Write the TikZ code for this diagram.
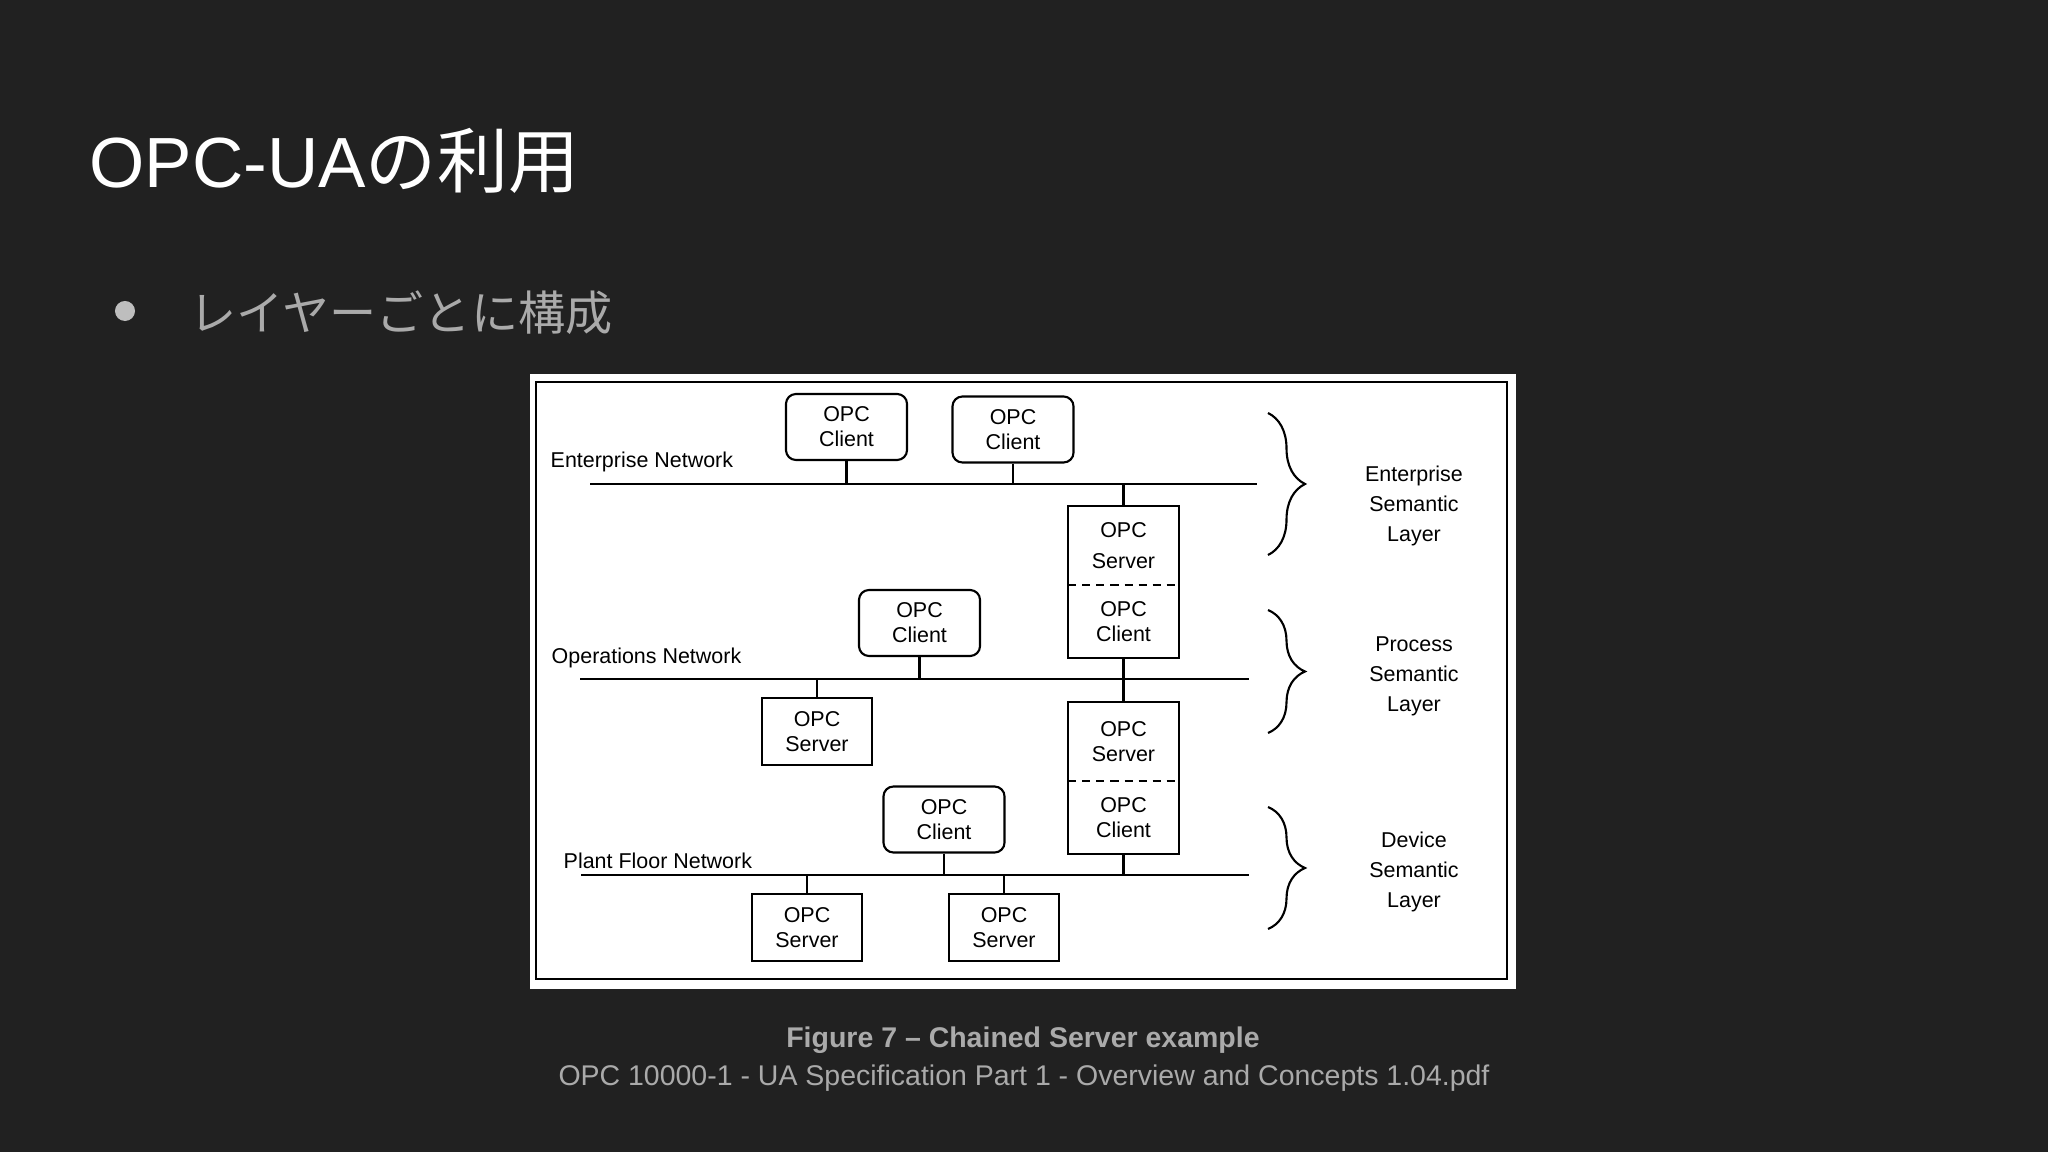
\documentclass[tikz,border=0pt]{standalone}
\usepackage{fontspec}
\setmainfont{Liberation Sans}
\newfontfamily\cjk{Noto Sans CJK JP}
\usetikzlibrary{positioning, fit, calc, decorations.pathreplacing}
\definecolor{slidebg}{RGB}{33, 33, 33}
\definecolor{softgray}{RGB}{170, 170, 170}
\definecolor{bulletgray}{RGB}{190, 190, 190}
\newcommand{\diagfont}{\fontsize{6.1}{7.1}\selectfont}
\newcommand{\layerfont}{\fontsize{6.1}{8.5}\selectfont}

\begin{document}
\begin{tikzpicture}[x=0.01cm, y=-0.01cm,
        client/.style={draw, line width=0.6pt, rounded corners=0.1cm, minimum width=1.21cm, minimum height=0.66cm, inner sep=0pt, align=center, font=\diagfont},
        server/.style={draw, line width=0.6pt, minimum width=1.10cm, minimum height=0.67cm, inner sep=0pt, align=center, font=\diagfont},
        half/.style={minimum width=1.09cm, inner sep=0pt, align=center, font=\diagfont},
        net/.style={line width=0.6pt},
        layerbrace/.style={decorate, decoration={brace, amplitude=0.37cm}, line width=0.6pt},
        netlabel/.style={anchor=base west, inner sep=0pt, font=\diagfont},
        layerlabel/.style={align=center, inner sep=0pt, font=\layerfont}
    ]
    % Slide
    \fill[slidebg] (0,0) rectangle (2048,1152);
    \useasboundingbox (0,0) rectangle (2048,1152);
    \node[anchor=base west, inner sep=0pt, text=white, font=\fontsize{20.2}{24}\selectfont] (title) at (89,188) {OPC-UA{\cjk の利用}};
    \node[circle, fill=bulletgray, inner sep=0pt, minimum size=0.2cm] (dot) at (125,311) {};
    \node[anchor=base west, inner sep=0pt, text=softgray, font=\cjk\fontsize{13.4}{16}\selectfont] (point) at (189,331) {レイヤーごとに構成};

    % Figure frame
    \fill[white] (530,374) rectangle (1516,989);
    \draw[line width=0.6pt] (536,382) rectangle (1507,979);

    % Networks
    \coordinate (entW) at (590,484);   \coordinate (entE) at (1257,484);
    \coordinate (opsW) at (580,679);   \coordinate (opsE) at (1249,679);
    \coordinate (plantW) at (581,875); \coordinate (plantE) at (1249,875);
    \draw[net] (entW) -- (entE);
    \draw[net] (opsW) -- (opsE);
    \draw[net] (plantW) -- (plantE);
    \node[netlabel] (entLabel) at (550,468) {Enterprise Network};
    \node[netlabel] (opsLabel) at (551,663) {Operations Network};
    \node[netlabel] (plantLabel) at (563,868) {Plant Floor Network};

    % Enterprise layer
    \node[client] (cliE1) at (846.5,427) {OPC\\Client};
    \node[client] (cliE2) at (1013,429.5) {OPC\\Client};
    \node[half, minimum height=0.77cm] (srvA) at (1123.5,545.5) {OPC\\[0.6mm]Server};
    \node[half, minimum height=0.72cm, below=0pt of srvA] (cliA) {OPC\\Client};
    \node[draw, line width=0.6pt, inner sep=0pt, fit=(srvA)(cliA)] (chainA) {};
    \draw[line width=0.6pt, dash pattern=on 2.3pt off 1.7pt] (srvA.south west) -- (srvA.south east);

    % Process layer
    \node[client] (cliO) at (919.5,623) {OPC\\Client};
    \node[server] (srvO) at (817,731.5) {OPC\\Server};
    \node[half, minimum height=0.77cm] (srvB) at (1123.5,741.5) {OPC\\Server};
    \node[half, minimum height=0.72cm, below=0pt of srvB] (cliB) {OPC\\Client};
    \node[draw, line width=0.6pt, inner sep=0pt, fit=(srvB)(cliB)] (chainB) {};
    \draw[line width=0.6pt, dash pattern=on 2.3pt off 1.7pt] (srvB.south west) -- (srvB.south east);

    % Device layer
    \node[client] (cliP) at (944,819.5) {OPC\\Client};
    \node[server] (srvP1) at (807,927.5) {OPC\\Server};
    \node[server] (srvP2) at (1004,927.5) {OPC\\Server};

    % Drops
    \draw[net] (cliE1.south) -- (cliE1.south |- entW);
    \draw[net] (cliE2.south) -- (cliE2.south |- entW);
    \draw[net] (chainA.north) -- (chainA.north |- entW);
    \draw[net] (chainA.south) -- (chainA.south |- opsW);
    \draw[net] (cliO.south) -- (cliO.south |- opsW);
    \draw[net] (srvO.north) -- (srvO.north |- opsW);
    \draw[net] (chainB.north) -- (chainB.north |- opsW);
    \draw[net] (chainB.south) -- (chainB.south |- plantW);
    \draw[net] (cliP.south) -- (cliP.south |- plantW);
    \draw[net] (srvP1.north) -- (srvP1.north |- plantW);
    \draw[net] (srvP2.north) -- (srvP2.north |- plantW);

    % Braces
    \draw[layerbrace] (1268,413) -- (1268,555);
    \draw[layerbrace] (1268,610) -- (1268,733);
    \draw[layerbrace] (1268,807) -- (1268,929);
    \node[layerlabel] (entLayer) at (1414,506) {Enterprise\\Semantic\\Layer};
    \node[layerlabel] (procLayer) at (1414,676) {Process\\Semantic\\Layer};
    \node[layerlabel] (devLayer) at (1414,872) {Device\\Semantic\\Layer};

    % Caption
    \node[anchor=base, inner sep=0pt, text=softgray, font=\bfseries\fontsize{8.1}{10}\selectfont] (figcap) at (1023,1047) {Figure 7 – Chained Server example};
    \node[anchor=base, inner sep=0pt, text=softgray, font=\fontsize{8.1}{10}\selectfont] (source) at (1024,1085) {OPC 10000-1 - UA Specification Part 1 - Overview and Concepts 1.04.pdf};
\end{tikzpicture}
\end{document}
